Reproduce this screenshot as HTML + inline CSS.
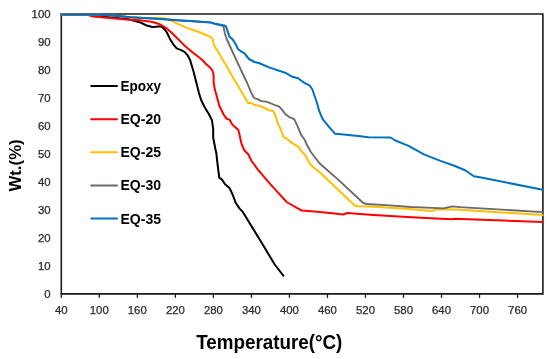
<!DOCTYPE html>
<html><head><meta charset="utf-8"><style>
html,body{margin:0;padding:0;background:#fff;overflow:hidden;}
svg{display:block;}
.tk{font-family:"Liberation Sans",Arial,sans-serif;font-size:11.4px;fill:#2a2a2a;stroke:#2a2a2a;stroke-width:0.25px;}
.lg{font-family:"Liberation Sans",Arial,sans-serif;font-size:15.1px;font-weight:bold;fill:#000;}
.ttl{font-family:"Liberation Sans",Arial,sans-serif;font-size:19.8px;font-weight:bold;fill:#000;}
.ytl{font-family:"Liberation Sans",Arial,sans-serif;font-size:16.7px;font-weight:bold;fill:#000;}
.ax{stroke:#1a1a1a;stroke-width:1.3;}
</style></head><body>
<svg width="550" height="359" viewBox="0 0 550 359">
<rect width="550" height="359" fill="#fff"/>
<text x="50.6" y="297.8" text-anchor="end" class="tk">0</text>
<text x="50.6" y="269.8" text-anchor="end" class="tk">10</text>
<text x="50.6" y="241.8" text-anchor="end" class="tk">20</text>
<text x="50.6" y="213.8" text-anchor="end" class="tk">30</text>
<text x="50.6" y="185.8" text-anchor="end" class="tk">40</text>
<text x="50.6" y="157.8" text-anchor="end" class="tk">50</text>
<text x="50.6" y="129.8" text-anchor="end" class="tk">60</text>
<text x="50.6" y="101.9" text-anchor="end" class="tk">70</text>
<text x="50.6" y="73.9" text-anchor="end" class="tk">80</text>
<text x="50.6" y="45.9" text-anchor="end" class="tk">90</text>
<text x="50.6" y="17.9" text-anchor="end" class="tk">100</text>
<line x1="61.30" y1="293.85" x2="61.30" y2="297.85" class="ax"/>
<text x="61.3" y="313.8" text-anchor="middle" class="tk">40</text>
<line x1="99.32" y1="293.85" x2="99.32" y2="297.85" class="ax"/>
<text x="99.3" y="313.8" text-anchor="middle" class="tk">100</text>
<line x1="137.34" y1="293.85" x2="137.34" y2="297.85" class="ax"/>
<text x="137.3" y="313.8" text-anchor="middle" class="tk">160</text>
<line x1="175.36" y1="293.85" x2="175.36" y2="297.85" class="ax"/>
<text x="175.4" y="313.8" text-anchor="middle" class="tk">220</text>
<line x1="213.38" y1="293.85" x2="213.38" y2="297.85" class="ax"/>
<text x="213.4" y="313.8" text-anchor="middle" class="tk">280</text>
<line x1="251.41" y1="293.85" x2="251.41" y2="297.85" class="ax"/>
<text x="251.4" y="313.8" text-anchor="middle" class="tk">340</text>
<line x1="289.43" y1="293.85" x2="289.43" y2="297.85" class="ax"/>
<text x="289.4" y="313.8" text-anchor="middle" class="tk">400</text>
<line x1="327.45" y1="293.85" x2="327.45" y2="297.85" class="ax"/>
<text x="327.4" y="313.8" text-anchor="middle" class="tk">460</text>
<line x1="365.47" y1="293.85" x2="365.47" y2="297.85" class="ax"/>
<text x="365.5" y="313.8" text-anchor="middle" class="tk">520</text>
<line x1="403.49" y1="293.85" x2="403.49" y2="297.85" class="ax"/>
<text x="403.5" y="313.8" text-anchor="middle" class="tk">580</text>
<line x1="441.51" y1="293.85" x2="441.51" y2="297.85" class="ax"/>
<text x="441.5" y="313.8" text-anchor="middle" class="tk">640</text>
<line x1="479.53" y1="293.85" x2="479.53" y2="297.85" class="ax"/>
<text x="479.5" y="313.8" text-anchor="middle" class="tk">700</text>
<line x1="517.55" y1="293.85" x2="517.55" y2="297.85" class="ax"/>
<text x="517.6" y="313.8" text-anchor="middle" class="tk">760</text>
<path d="M61.3 14.0 V293.85 H542.9 V14.0 Z" fill="none" stroke="#1a1a1a" stroke-width="1.6"/>
<polyline points="61.5,14.6 92.0,14.8 102.0,16.0 110.0,17.3 123.6,18.7 130.0,19.6 135.0,21.1 140.5,22.5 145.9,25.2 151.4,26.8 154.1,26.9 157.9,26.4 160.6,26.4 162.8,27.6 165.0,29.8 166.7,32.3 170.0,38.9 173.4,44.5 176.7,48.4 181.2,50.1 184.5,51.8 187.9,55.7 190.1,60.0 193.8,72.5 196.0,81.2 198.9,92.8 201.1,100.0 204.7,107.3 209.1,114.5 212.0,120.4 213.2,129.1 213.2,137.8 214.9,146.5 216.4,153.7 217.5,163.9 219.3,177.8 221.7,179.2 225.1,184.3 229.5,187.9 232.8,195.0 235.7,202.8 239.6,208.6 242.5,211.6 260.0,240.0 274.7,264.5 283.3,275.6" fill="none" stroke="#000000" stroke-width="2.0" stroke-linejoin="round" stroke-linecap="round"/>
<polyline points="61.5,14.6 87.6,14.8 93.0,16.5 104.0,17.6 123.6,19.3 135.0,20.0 140.0,20.3 145.9,20.9 151.4,21.7 156.8,23.3 161.2,25.0 165.6,27.5 171.1,32.3 176.7,37.8 182.3,43.4 187.9,48.4 193.4,52.9 201.8,59.5 206.0,64.0 210.1,67.6 212.3,70.2 213.4,73.5 213.6,76.0 213.7,82.9 214.9,89.8 217.8,100.0 219.3,105.8 223.6,114.5 226.5,118.6 229.5,119.6 232.4,124.7 238.2,129.8 239.6,134.9 241.1,142.2 242.2,145.5 244.2,150.2 248.2,154.2 251.6,161.0 257.5,169.2 269.2,182.9 279.0,193.6 286.6,202.0 298.2,208.7 301.8,210.5 314.5,211.6 332.7,213.3 342.7,214.5 347.3,213.0 360.0,214.0 370.0,214.8 402.7,216.8 435.5,218.6 452.0,219.3 454.5,218.7 542.6,222.1" fill="none" stroke="#FF0000" stroke-width="2.0" stroke-linejoin="round" stroke-linecap="round"/>
<polyline points="61.5,14.6 101.8,14.7 118.2,16.0 130.0,17.2 140.0,17.8 150.0,18.2 156.0,18.0 162.0,18.0 166.0,18.6 171.5,20.8 176.7,23.3 187.9,28.4 194.5,30.3 200.0,32.5 210.5,36.9 212.7,39.1 213.5,44.2 217.0,50.0 247.3,101.7 248.3,103.3 250.9,102.8 255.3,105.3 260.4,106.1 264.7,108.0 269.1,110.2 273.5,111.3 275.6,116.0 277.8,123.3 280.0,127.6 283.6,137.1 286.5,138.5 290.9,142.2 295.3,145.1 298.9,147.2 301.1,150.8 304.7,154.5 308.4,161.0 311.3,165.4 315.6,169.0 320.0,172.6 333.2,185.0 354.5,205.2 358.0,206.2 370.0,206.5 402.7,208.6 432.5,210.9 436.5,209.3 455.0,209.6 542.6,214.9" fill="none" stroke="#FFC000" stroke-width="2.0" stroke-linejoin="round" stroke-linecap="round"/>
<polyline points="61.5,14.6 101.8,14.7 118.2,16.0 130.0,17.2 140.0,17.8 160.0,18.9 180.0,20.4 190.0,21.0 210.5,22.4 214.9,23.8 223.4,26.2 225.0,34.0 226.7,39.0 234.0,55.0 240.0,67.8 246.9,82.5 250.6,91.2 253.4,97.0 255.0,98.4 257.3,98.9 261.2,101.1 265.6,101.7 269.0,102.6 273.4,104.5 277.9,106.2 279.5,106.9 282.3,110.1 285.7,114.5 289.6,117.3 291.6,117.8 294.5,119.6 297.5,126.2 301.1,134.9 304.4,139.3 307.0,145.0 310.7,151.8 319.5,163.2 339.0,180.4 363.2,203.0 366.8,204.0 389.6,205.3 410.9,207.0 432.2,207.8 443.6,208.4 452.5,206.3 460.0,207.1 542.6,212.1" fill="none" stroke="#6E6868" stroke-width="1.85" stroke-linejoin="round" stroke-linecap="round"/>
<polyline points="61.5,14.6 101.8,14.7 118.2,16.0 130.0,17.2 140.0,17.8 160.0,18.9 180.0,20.4 190.0,21.0 210.5,22.4 214.9,23.8 222.2,25.0 225.8,26.0 227.3,30.4 229.5,36.9 232.4,39.1 235.3,43.5 238.2,49.3 241.1,51.5 244.0,52.9 246.5,56.0 249.0,59.0 254.5,62.0 258.9,63.0 269.1,67.4 285.1,72.7 292.4,76.8 298.2,78.3 301.1,80.5 304.0,82.6 309.5,85.3 312.4,89.5 314.5,95.7 317.5,104.5 318.9,110.2 322.5,118.9 328.4,126.2 334.9,133.7 343.6,134.5 358.2,136.1 368.4,137.3 390.5,137.5 395.4,140.5 408.5,145.9 424.0,154.4 440.4,160.9 455.0,166.0 465.6,170.5 473.8,176.2 481.2,177.5 542.6,189.8" fill="none" stroke="#0070C0" stroke-width="2.0" stroke-linejoin="round" stroke-linecap="round"/>
<line x1="91.2" y1="86" x2="117.0" y2="86" stroke="#000000" stroke-width="2.0" stroke-linecap="round"/>
<text x="120.5" y="90.9" class="lg" textLength="40.6" lengthAdjust="spacingAndGlyphs">Epoxy</text>
<line x1="91.2" y1="119.3" x2="117.0" y2="119.3" stroke="#FF0000" stroke-width="2.0" stroke-linecap="round"/>
<text x="120.5" y="124.2" class="lg" textLength="40.6" lengthAdjust="spacingAndGlyphs">EQ-20</text>
<line x1="91.2" y1="152.2" x2="117.0" y2="152.2" stroke="#FFC000" stroke-width="2.0" stroke-linecap="round"/>
<text x="120.5" y="157.1" class="lg" textLength="40.6" lengthAdjust="spacingAndGlyphs">EQ-25</text>
<line x1="91.2" y1="185.4" x2="117.0" y2="185.4" stroke="#6E6868" stroke-width="2.0" stroke-linecap="round"/>
<text x="120.5" y="190.3" class="lg" textLength="40.6" lengthAdjust="spacingAndGlyphs">EQ-30</text>
<line x1="91.2" y1="218.6" x2="117.0" y2="218.6" stroke="#0070C0" stroke-width="2.0" stroke-linecap="round"/>
<text x="120.5" y="223.5" class="lg" textLength="40.6" lengthAdjust="spacingAndGlyphs">EQ-35</text>
<text x="196.2" y="348.7" class="ttl" textLength="146.2" lengthAdjust="spacingAndGlyphs">Temperature(°C)</text>
<text transform="translate(20.7 191.6) rotate(-90)" x="0" y="0" class="ytl" textLength="52.3" lengthAdjust="spacingAndGlyphs">Wt.(%)</text>
</svg>
</body></html>
